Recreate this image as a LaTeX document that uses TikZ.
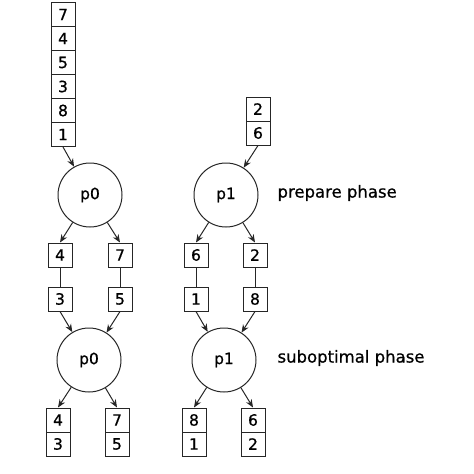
\documentclass[tikz,border=0pt]{standalone}
\usepackage{fontspec}
\setmainfont{DejaVu Sans}[FakeBold=0.7]
\usetikzlibrary{arrows.meta}

\begin{document}
\begin{tikzpicture}[x=1pt, y=-1pt,
    every node/.style={font=\fontsize{15.5}{18}\selectfont, text=black},
    cell/.style={draw=black!85, line width=1pt, minimum size=24pt, inner sep=0pt},
    proc/.style={draw=black!85, circle, line width=1pt, minimum size=64pt, inner sep=0pt},
    phase/.style={font=\fontsize{16.5}{20}\selectfont, anchor=west},
    arr/.style={draw=black!85, line width=1pt, -{Stealth[length=8pt, width=6.5pt]}},
]
\useasboundingbox (0,0) rectangle (474,474);

% the two input queues
\foreach \v [count=\i] in {7,4,5,3,8,1}
    \node[cell] (q0-\i) at (63, {-9.5+24*\i}) {\v};
\foreach \v [count=\i] in {2,6}
    \node[cell] (q1-\i) at (258, {85+24*\i}) {\v};

% processes in both phases
\node[proc] (pa0) at (90,195) {p0};
\node[proc] (pa1) at (226,195) {p1};
\node[proc] (pb0) at (89,360) {p0};
\node[proc] (pb1) at (224,360) {p1};

\node[phase] (prep) at (274,193) {prepare phase};
\node[phase] (subopt) at (274,358) {suboptimal phase};

% halves handed out after prepare
\foreach \n/\x/\a/\b in {0l/60/4/3, 0r/120/7/5, 1l/196/6/1, 1r/255/2/8}{
    \node[cell] (h\n) at (\x,255) {\a};
    \node[cell] (g\n) at (\x,299) {\b};
    \draw[draw=black!85, line width=1pt] (h\n) -- (g\n);
}

% results of the suboptimal phase
\foreach \n/\x/\a/\b in {0l/58/4/3, 0r/117/7/5, 1l/194/8/1, 1r/253/6/2}{
    \node[cell] (t\n-1) at (\x,420) {\a};
    \node[cell] (t\n-2) at (\x,444) {\b};
}

\draw[arr] (q0-6.south) -- (pa0);
\draw[arr] (q1-2.south) -- (pa1);
\foreach \k in {0,1}
    \foreach \s in {l,r}{
        \draw[arr] (pa\k) -- (h\k\s.north);
        \draw[arr] (g\k\s.south) -- (pb\k);
        \draw[arr] (pb\k) -- (t\k\s-1.north);
    }
\end{tikzpicture}
\end{document}
